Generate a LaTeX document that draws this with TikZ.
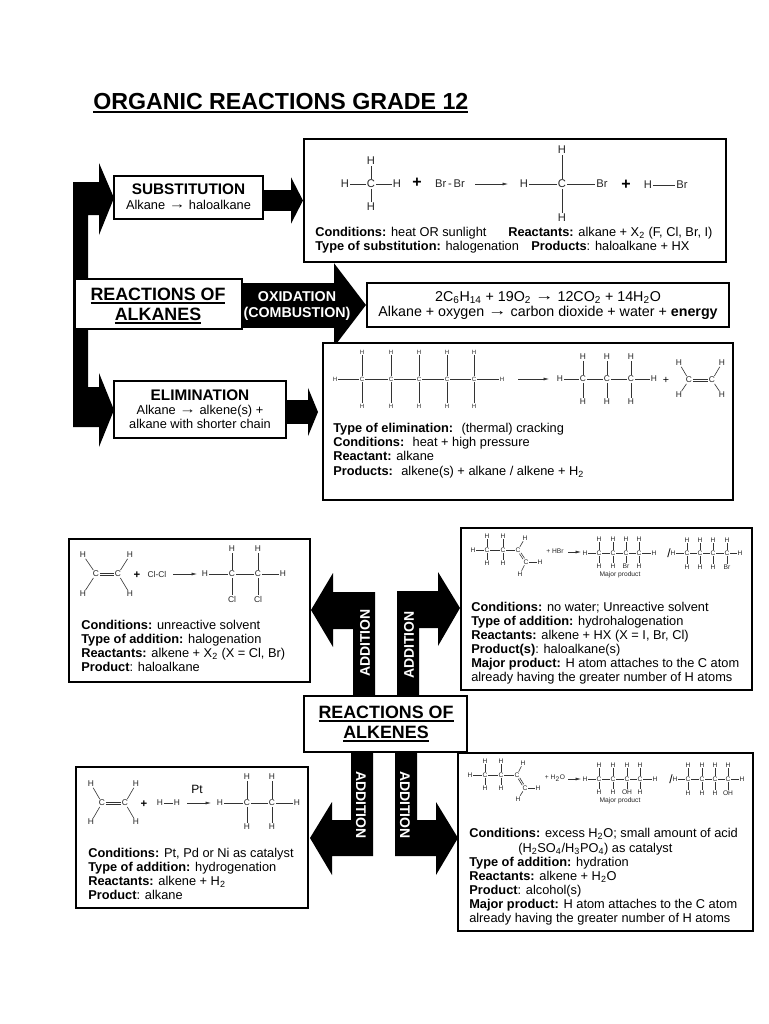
\documentclass[tikz,border=0pt]{standalone}
\usepackage{fontspec}
\setmainfont{Liberation Sans}
\usetikzlibrary{arrows.meta}
\newcommand\txtf{\fontsize{9.6}{11}\selectfont}
\newcommand\medf{\fontsize{10.7}{12.5}\selectfont}
\newcommand\atL{\fontsize{8.4}{10}\selectfont}
\newcommand\atM{\fontsize{6.3}{8}\selectfont}
\newcommand\atS{\fontsize{4.6}{6}\selectfont}
\newcommand\atT{\fontsize{5}{6}\selectfont}
\newcommand\thul[2]{\leavevmode\vtop{\hbox{#2}\kern 1.3pt\hrule height #1}}
\newcommand\arw{\raisebox{0.6pt}{\scalebox{1.3}[1]{→}}}
\tikzset{
  bx/.style={draw=black,fill=white,line width=1.5pt,inner sep=0pt},
  blk/.style={fill=black},
  bigarrow/.style n args={3}{line width=#1,draw=black,-{Triangle[width=#2,length=#3]}},
  atom/.style={inner sep=0.5pt,text=black!85},
  bond/.style={line width=0.45pt,draw=black!80},
  rxn/.style={line width=0.45pt,draw=black!80,-{Latex[length=4pt,width=2.2pt]}},
  txt/.style={anchor=west,inner sep=0pt,font=\txtf,text height=7pt,text depth=2pt,yshift=-0.5pt},
  ctr/.style={txt,anchor=center},
  bighead/.style={ctr,yshift=-1.75pt,font=\fontsize{13.4}{15}\selectfont\bfseries},
  subhead/.style={ctr,yshift=-1pt,font=\fontsize{11.5}{13}\selectfont\bfseries},
  oxhead/.style={ctr,yshift=-1pt,font=\fontsize{10.7}{12}\selectfont\bfseries,text=white},
  lab/.style={inner sep=0pt,font=\fontsize{10.5}{12}\selectfont\bfseries,text=white},
  plus/.style={inner sep=0pt},
}
\newcommand\Bx[5]{\node[bx,minimum width={(#4-#2)*0.75pt},minimum height={(#5-#3)*0.75pt}] (#1) at ({(#2+#4)/2},{(#3+#5)/2}) {};}
\newcommand\At[5]{\node[atom,font=#1] (#2) at (#3,#4) {#5};}
\newcommand\Bd[2]{\draw[bond] (#1) -- (#2);}
\newcommand\Dbl[2]{\draw[bond,transform canvas={yshift=0.8pt}] (#1) -- (#2);\draw[bond,transform canvas={yshift=-0.8pt}] (#1) -- (#2);}
\newcommand\DblS[2]{\draw[bond,transform canvas={xshift=0.55pt,yshift=0.35pt}] (#1) -- (#2);\draw[bond,transform canvas={xshift=-0.55pt,yshift=-0.35pt}] (#1) -- (#2);}
\newcommand\Cn[7]{\At{#1}{#2}{#3}{#4}{C}\At{#1}{#2t}{#3}{#5}{H}\At{#1}{#2b}{#3}{#6}{#7}\Bd{#2}{#2t}\Bd{#2}{#2b}}
\newcommand\Tx[4]{\node[txt] (#1) at (#2,#3) {#4};}
\newcommand\Ct[4]{\node[ctr] (#1) at (#2,#3) {#4};}
\newcommand\Ethene[9]{% font name x1 x2 y xl xr yt yb
  \At{#1}{#2a}{#3}{#5}{C}\At{#1}{#2b}{#4}{#5}{C}
  \At{#1}{#2h1}{#6}{#8}{H}\At{#1}{#2h2}{#7}{#8}{H}\At{#1}{#2h3}{#6}{#9}{H}\At{#1}{#2h4}{#7}{#9}{H}
  \Dbl{#2a}{#2b}\Bd{#2a}{#2h1}\Bd{#2b}{#2h2}\Bd{#2a}{#2h3}\Bd{#2b}{#2h4}}
\begin{document}
\begin{tikzpicture}[x=0.75pt,y=-0.75pt]
\useasboundingbox[fill=white] (0,0) rectangle (768,1024);

% title
\node[inner sep=0pt,anchor=base west,font=\fontsize{17.4}{20}\selectfont\bfseries] (title) at (93,109) {\thul{1.4pt}{ORGANIC REACTIONS GRADE 12}};

% spine with arrowheads
\fill[blk] (73,182) -- (99,182) -- (99,163) -- (114,198) -- (99,235) -- (99,215) -- (88,215)
  -- (88,387) -- (99,387) -- (99,373) -- (114,410) -- (99,447) -- (99,427) -- (73,427) -- cycle;

% alkane boxes, left
\Bx{subst}{114}{176}{263}{219}
\node[subhead] (substt) at (188.5,189) {SUBSTITUTION};
\Ct{substs}{188.5}{205}{Alkane \arw{} haloalkane}
\Bx{alkanes}{75}{279}{242}{329}
\node[bighead] (alkt1) at (158,294) {\thul{1pt}{REACTIONS OF}};
\node[bighead] (alkt2) at (158,314) {\thul{1pt}{ALKANES}};
\Bx{elim}{114}{381}{286}{438}
\node[subhead] (elimt) at (200,395) {ELIMINATION};
\Ct{elims1}{200}{410}{Alkane \arw{} alkene(s) +}
\Ct{elims2}{200}{424}{alkane with shorter chain}

% substitution box
\Bx{subbox}{304}{139}{726}{262}
\draw[bigarrow={15.75pt}{34.5pt}{9pt}] (subst.east |- subbox.west) -- (subbox.west);
\At{\atL}{mC}{371}{184}{C}\At{\atL}{mHl}{345}{184}{H}\At{\atL}{mHr}{397}{184}{H}\At{\atL}{mHt}{371}{161}{H}\At{\atL}{mHb}{371}{207}{H}
\Bd{mC}{mHl}\Bd{mC}{mHr}\Bd{mC}{mHt}\Bd{mC}{mHb}
\node[plus,font=\fontsize{12}{12}\selectfont\bfseries] (sp1) at (417,183) {+};
\At{\atL}{brbr}{450}{184}{Br\,-\,Br}
\coordinate (sa1) at (475,184); \coordinate (sa2) at (508,184);
\draw[rxn] (sa1) -- (sa2);
\At{\atL}{pHl}{524}{184}{H}\At{\atL}{pC}{562}{184}{C}\At{\atL}{pBr}{602}{184}{Br}\At{\atL}{pHt}{562}{150}{H}\At{\atL}{pHb}{562}{218}{H}
\Bd{pC}{pHl}\Bd{pC}{pBr}\Bd{pC}{pHt}\Bd{pC}{pHb}
\node[plus,font=\fontsize{12}{12}\selectfont\bfseries] (sp2) at (626,185) {+};
\At{\atL}{hbH}{648}{185}{H}\At{\atL}{hbBr}{682}{185}{Br}\Bd{hbH}{hbBr}
\Tx{s1}{315}{232}{\textbf{Conditions:} heat OR sunlight}
\Tx{s2}{508}{232}{\textbf{Reactants:} alkane + X\textsubscript{2} (F, Cl, Br, I)}
\Tx{s3}{315}{246}{\textbf{Type of substitution:} halogenation}
\Tx{s4}{531}{246}{\textbf{Products}: haloalkane + HX}

% oxidation
\Bx{oxbox}{367}{283}{729}{327}
\draw[bigarrow={33.75pt}{61.5pt}{24pt}] (alkanes.east |- oxbox.west) -- (oxbox.west);
\node[oxhead] (ox1) at (297,296) {OXIDATION};
\node[oxhead] (ox2) at (297,312) {(COMBUSTION)};
\node[ctr,yshift=-1pt,font=\medf] (oxt1) at (548,296) {2C\textsubscript{6}H\textsubscript{14} + 19O\textsubscript{2} \arw{} 12CO\textsubscript{2} + 14H\textsubscript{2}O};
\node[ctr,yshift=-1pt,font=\medf] (oxt2) at (548,311) {Alkane + oxygen \arw{} carbon dioxide + water + \textbf{energy}};

% elimination box
\coordinate (elimtip) at (318,412);
\draw[bigarrow={18pt}{36pt}{7.5pt}] (elim.east |- elimtip) -- (elimtip);
\Bx{elbox}{323}{343}{733}{500}
\At{\atS}{ph0}{335}{379}{H}\At{\atS}{phe}{502}{379}{H}
\Cn{\atS}{pa}{362}{379}{352}{406}{H}\Cn{\atS}{pb}{391}{379}{352}{406}{H}\Cn{\atS}{pc}{419}{379}{352}{406}{H}\Cn{\atS}{pd}{447}{379}{352}{406}{H}\Cn{\atS}{pe}{474}{379}{352}{406}{H}
\Bd{ph0}{pa}\Bd{pa}{pb}\Bd{pb}{pc}\Bd{pc}{pd}\Bd{pd}{pe}\Bd{pe}{phe}
\coordinate (ea1) at (518,379); \coordinate (ea2) at (549,379);
\draw[rxn] (ea1) -- (ea2);
\At{\atM}{qh0}{560}{379}{H}\At{\atM}{qhe}{654}{379}{H}
\Cn{\atM}{qa}{583}{379}{357}{402}{H}\Cn{\atM}{qb}{607}{379}{357}{402}{H}\Cn{\atM}{qc}{631}{379}{357}{402}{H}
\Bd{qh0}{qa}\Bd{qa}{qb}\Bd{qb}{qc}\Bd{qc}{qhe}
\node[plus,font=\fontsize{8}{8}\selectfont] (ep) at (666,380) {+};
\Ethene{\atM}{ee}{689}{712}{380}{679}{722}{363}{395}
\Tx{e1}{333}{428}{\textbf{Type of elimination:} ~(thermal) cracking}
\Tx{e2}{333}{442}{\textbf{Conditions:} ~heat + high pressure}
\Tx{e3}{333}{456}{\textbf{Reactant:} alkane}
\Tx{e4}{333}{471}{\textbf{Products:} ~alkene(s) + alkane / alkene + H\textsubscript{2}}

% addition arrows
\fill[blk] (353,696) -- (353,629) -- (333,629) -- (333,647) -- (311,610) -- (333,573) -- (333,592) -- (375,592) -- (375,696) -- cycle;
\fill[blk] (397,696) -- (397,591) -- (438,591) -- (438,572) -- (460,608) -- (438,646) -- (438,628) -- (419,628) -- (419,696) -- cycle;
\fill[blk] (351,752) -- (351,820) -- (332,820) -- (332,802) -- (310,838) -- (332,875) -- (332,856) -- (373,856) -- (373,752) -- cycle;
\fill[blk] (395,752) -- (395,856) -- (436,856) -- (436,875) -- (458,838) -- (436,802) -- (436,820) -- (417,820) -- (417,752) -- cycle;
\node[lab,rotate=90] (ad1) at (365,643) {ADDITION};
\node[lab,rotate=90] (ad2) at (409,645) {ADDITION};
\node[lab,rotate=-90] (ad3) at (361,805) {ADDITION};
\node[lab,rotate=-90] (ad4) at (405,805) {ADDITION};

% alkene centre
\Bx{alkenes}{304}{696}{467}{751.5}
\node[bighead] (aket1) at (386,712) {\thul{1pt}{REACTIONS OF}};
\node[bighead] (aket2) at (386,732) {\thul{1pt}{ALKENES}};

% halogenation
\Bx{halbox}{69}{539}{310}{682}
\Ethene{\atM}{ha}{96}{118}{574}{83}{130}{555}{594}
\node[plus,font=\fontsize{8.5}{8}\selectfont\bfseries] (hp) at (137,575) {+};
\At{\atM}{clcl}{157}{574}{Cl-Cl}
\coordinate (ha1) at (173,574); \coordinate (ha2) at (197,574);
\draw[rxn] (ha1) -- (ha2);
\At{\atM}{hh0}{205}{574}{H}\At{\atM}{hhe}{283}{574}{H}
\Cn{\atM}{hc}{232}{574}{549}{599}{Cl}\Cn{\atM}{hd}{258}{574}{549}{599}{Cl}
\Bd{hh0}{hc}\Bd{hc}{hd}\Bd{hd}{hhe}
\Tx{h1}{81}{625}{\textbf{Conditions:} unreactive solvent}
\Tx{h2}{81}{639}{\textbf{Type of addition:} halogenation}
\Tx{h3}{81}{653}{\textbf{Reactants:} alkene + X\textsubscript{2} (X = Cl, Br)}
\Tx{h4}{81}{667}{\textbf{Product}: haloalkane}

% hydrogenation
\Bx{hyd}{76}{767}{308}{908}
\Ethene{\atM}{hy}{102}{125}{803}{91}{136}{784}{822}
\node[plus,font=\fontsize{8.5}{8}\selectfont\bfseries] (hyp) at (144,804) {+};
\At{\atM}{yh1}{160}{803}{H}\At{\atM}{yh2}{177}{803}{H}\Bd{yh1}{yh2}
\node[ctr,font=\fontsize{9}{10}\selectfont] (pt) at (197,789) {Pt};
\coordinate (ya1) at (187,803); \coordinate (ya2) at (211,803);
\draw[rxn] (ya1) -- (ya2);
\At{\atM}{yh0}{220}{803}{H}\At{\atM}{yhe}{297}{803}{H}
\Cn{\atM}{yc}{247}{803}{777}{827}{H}\Cn{\atM}{yd}{272}{803}{777}{827}{H}
\Bd{yh0}{yc}\Bd{yc}{yd}\Bd{yd}{yhe}
\Tx{y1}{88}{853}{\textbf{Conditions:} Pt, Pd or Ni as catalyst}
\Tx{y2}{88}{867}{\textbf{Type of addition:} hydrogenation}
\Tx{y3}{88}{881}{\textbf{Reactants:} alkene + H\textsubscript{2}}
\Tx{y4}{88}{895}{\textbf{Product}: alkane}

% hydrohalogenation
\Bx{hbr}{461}{528}{752}{690}
\At{\atT}{bh0}{473}{550}{H}
\Cn{\atT}{ba}{487}{550}{536}{563}{H}\Cn{\atT}{bb}{503}{550}{536}{563}{H}
\At{\atT}{bc}{518}{550}{C}\At{\atT}{bch}{525}{538}{H}\At{\atT}{bd}{526}{562}{C}\At{\atT}{bdr}{540}{562}{H}\At{\atT}{bdb}{520}{574}{H}
\Bd{bh0}{ba}\Bd{ba}{bb}\Bd{bb}{bc}\Bd{bc}{bch}\DblS{bc}{bd}\Bd{bd}{bdr}\Bd{bd}{bdb}
\At{\atT}{bp}{555}{551}{+ HBr}
\coordinate (ba1) at (568,552); \coordinate (ba2) at (581,552);
\draw[rxn] (ba1) -- (ba2);
\At{\atT}{bi0}{585}{553}{H}\At{\atT}{bie}{654}{553}{H}
\Cn{\atT}{bi}{599}{553}{539}{566}{H}\Cn{\atT}{bj}{613}{553}{539}{566}{H}\Cn{\atT}{bk}{626}{553}{539}{566}{Br}\Cn{\atT}{bl}{639}{553}{539}{566}{H}
\Bd{bi0}{bi}\Bd{bi}{bj}\Bd{bj}{bk}\Bd{bk}{bl}\Bd{bl}{bie}
\At{\atT}{bmaj}{620}{575}{Major product}
\node[inner sep=0pt,font=\fontsize{9}{9}\selectfont] (bslash) at (669,553) {/};
\At{\atT}{bn0}{673}{553}{H}\At{\atT}{bne}{740}{553}{H}
\Cn{\atT}{bn}{687}{553}{540}{567}{H}\Cn{\atT}{bo}{700}{553}{540}{567}{H}\Cn{\atT}{bq}{713}{553}{540}{567}{H}\Cn{\atT}{br}{727}{553}{540}{567}{Br}
\Bd{bn0}{bn}\Bd{bn}{bo}\Bd{bo}{bq}\Bd{bq}{br}\Bd{br}{bne}
\Tx{b1}{471}{607}{\textbf{Conditions:} no water; Unreactive solvent}
\Tx{b2}{471}{621}{\textbf{Type of addition:} hydrohalogenation}
\Tx{b3}{471}{635}{\textbf{Reactants:} alkene + HX (X = I, Br, Cl)}
\Tx{b4}{471}{649}{\textbf{Product(s)}: haloalkane(s)}
\Tx{b5}{471}{663}{\textbf{Major product:} H atom attaches to the C atom}
\Tx{b6}{471}{677}{already having the greater number of H atoms}

% hydration
\Bx{wat}{458}{753}{753}{931}
\At{\atT}{wh0}{470}{775}{H}
\Cn{\atT}{wa}{485}{775}{761}{788}{H}\Cn{\atT}{wb}{501}{775}{761}{788}{H}
\At{\atT}{wc}{517}{775}{C}\At{\atT}{wch}{523}{763}{H}\At{\atT}{wd}{525}{788}{C}\At{\atT}{wdr}{538}{788}{H}\At{\atT}{wdb}{518}{799}{H}
\Bd{wh0}{wa}\Bd{wa}{wb}\Bd{wb}{wc}\Bd{wc}{wch}\DblS{wc}{wd}\Bd{wd}{wdr}\Bd{wd}{wdb}
\At{\atT}{wp}{555}{778}{+ H\textsubscript{2}O}
\coordinate (wa1) at (568,779); \coordinate (wa2) at (581,779);
\draw[rxn] (wa1) -- (wa2);
\At{\atT}{wi0}{585}{779}{H}\At{\atT}{wie}{655}{779}{H}
\Cn{\atT}{wi}{599}{779}{765}{792}{H}\Cn{\atT}{wj}{613}{779}{765}{792}{H}\Cn{\atT}{wk}{627}{779}{765}{792}{OH}\Cn{\atT}{wl}{640}{779}{765}{792}{H}
\Bd{wi0}{wi}\Bd{wi}{wj}\Bd{wj}{wk}\Bd{wk}{wl}\Bd{wl}{wie}
\At{\atT}{wmaj}{620}{801}{Major product}
\node[inner sep=0pt,font=\fontsize{9}{9}\selectfont] (wslash) at (671,779) {/};
\At{\atT}{wn0}{675}{779}{H}\At{\atT}{wne}{742}{779}{H}
\Cn{\atT}{wn}{688}{779}{765}{793}{H}\Cn{\atT}{wo}{702}{779}{765}{793}{H}\Cn{\atT}{wq}{715}{779}{765}{793}{H}\Cn{\atT}{wr}{728}{779}{765}{793}{OH}
\Bd{wn0}{wn}\Bd{wn}{wo}\Bd{wo}{wq}\Bd{wq}{wr}\Bd{wr}{wne}
\Tx{w1}{469}{833}{\textbf{Conditions:} excess H\textsubscript{2}O; small amount of acid}
\Tx{w2}{518}{848}{(H\textsubscript{2}SO\textsubscript{4}/H\textsubscript{3}PO\textsubscript{4}) as catalyst}
\Tx{w3}{469}{862}{\textbf{Type of addition:} hydration}
\Tx{w4}{469}{876}{\textbf{Reactants:} alkene + H\textsubscript{2}O}
\Tx{w5}{469}{890}{\textbf{Product}: alcohol(s)}
\Tx{w6}{469}{904}{\textbf{Major product:} H atom attaches to the C atom}
\Tx{w7}{469}{918}{already having the greater number of H atoms}
\end{tikzpicture}
\end{document}
